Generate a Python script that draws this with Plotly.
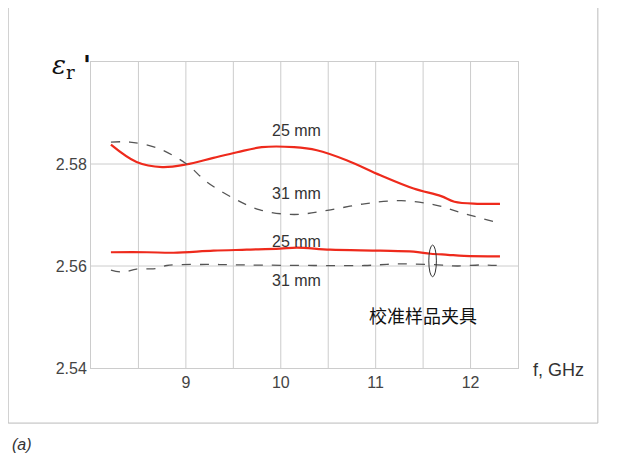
import plotly.graph_objects as go

x_r25 = [8.21, 8.48, 8.75, 9.0, 9.29, 9.54, 9.80, 10.14, 10.38, 10.70, 11.05, 11.40, 11.69, 11.83, 12.07, 12.31]
y_r25 = [2.5838, 2.5804, 2.5794, 2.5799, 2.5812, 2.5823, 2.5833, 2.5833, 2.5827, 2.5807, 2.5778, 2.5752, 2.5737, 2.5726, 2.5722, 2.5722]
x_r31 = [8.21, 8.41, 8.69, 9.0, 9.22, 9.50, 9.78, 10.14, 10.49, 10.88, 11.27, 11.62, 11.93, 12.31]
y_r31 = [2.5843, 2.5843, 2.5832, 2.5801, 2.5765, 2.5733, 2.5710, 2.5701, 2.5709, 2.5722, 2.5728, 2.5720, 2.5703, 2.5684]
x_f25 = [8.21, 8.59, 8.87, 9.29, 9.64, 9.99, 10.17, 10.52, 11.05, 11.40, 11.58, 11.76, 11.93, 12.31]
y_f25 = [2.5627, 2.5627, 2.5626, 2.5630, 2.5632, 2.5634, 2.5636, 2.5632, 2.5630, 2.5628, 2.5624, 2.5622, 2.5620, 2.5619]
x_f31 = [8.21, 8.34, 8.48, 8.69, 8.80, 9.22, 9.64, 10.35, 10.88, 11.23, 11.58, 11.86, 12.11, 12.28]
y_f31 = [2.5592, 2.5588, 2.5594, 2.5595, 2.5601, 2.5603, 2.5602, 2.5601, 2.5601, 2.5604, 2.5603, 2.5600, 2.5602, 2.5601]
x_ticks = [9, 10, 11, 12]
y_ticks = [2.54, 2.56, 2.58]

red = "#ee2a1c"
gray = "#555555"
fig = go.Figure()
for xs, ys, c, d in [(x_r25, y_r25, red, "solid"), (x_r31, y_r31, gray, "dash"),
                     (x_f25, y_f25, red, "solid"), (x_f31, y_f31, gray, "dash")]:
    fig.add_trace(go.Scatter(x=xs, y=ys, mode="lines", line=dict(color=c, dash=d,
                  width=2.2 if c == red else 1.3, shape="spline"), showlegend=False))

tf = dict(family="Liberation Sans", size=16, color="#444")
fig.update_layout(
    width=617, height=467, margin=dict(l=83, r=107, t=54, b=107),
    plot_bgcolor="white", paper_bgcolor="white",
    xaxis=dict(range=[8, 12.5], tickvals=x_ticks, ticks="", showgrid=False,
               showline=True, linecolor="#ccc", mirror=True, tickfont=tf, zeroline=False),
    yaxis=dict(range=[2.54, 2.6], tickvals=y_ticks, ticktext=["2.54", "2.56", "2.58"],
               ticks="", showgrid=False, showline=True, linecolor="#ccc", mirror=True,
               tickfont=tf, zeroline=False),
)
shapes = []
for i in range(1, 9):
    xv = 8 + 0.5 * i
    shapes.append(dict(type="line", xref="x", yref="paper", x0=xv, x1=xv, y0=0, y1=1,
                       line=dict(color="#ccc", width=1), layer="below"))
for yv in [2.56, 2.58]:
    shapes.append(dict(type="line", xref="paper", yref="y", x0=0, x1=1, y0=yv, y1=yv,
                       line=dict(color="#ccc", width=1), layer="below"))
shapes.append(dict(type="circle", xref="x", yref="y", x0=11.56, x1=11.64, y0=2.5579, y1=2.5641,
                   line=dict(color="#333", width=1)))
shapes.append(dict(type="rect", xref="paper", yref="paper", x0=-0.194, x1=1.187, y0=-0.18, y1=1.2,
                   line=dict(color="#bbb", width=1)))
fig.update_layout(shapes=shapes)

lab = dict(family="Liberation Sans", size=16, color="#333")
for t, xv, yv in [("25 mm", 10.17, 2.5866), ("31 mm", 10.17, 2.5743), ("25 mm", 10.17, 2.5648), ("31 mm", 10.17, 2.5571)]:
    fig.add_annotation(x=xv, y=yv, text=t, showarrow=False, font=lab)
fig.add_annotation(x=11.5, y=2.5503, text="校准样品夹具", showarrow=False,
                   font=dict(family="Noto Sans CJK SC", size=18, color="#111"))
fig.add_annotation(xref="paper", yref="paper", x=1.03, y=-0.045, text="f, GHz", showarrow=False,
                   xanchor="left", font=dict(family="Liberation Sans", size=18, color="#333"))
fig.add_annotation(xref="paper", yref="paper", x=-0.045, y=1.045,
                   text="<i>ε</i><sub>r</sub> <b>'</b>", showarrow=False, xanchor="center",
                   font=dict(family="DejaVu Serif", size=26, color="#111"))
fig.add_annotation(xref="paper", yref="paper", x=-0.19, y=-0.285, text="<i>(a)</i>", showarrow=False,
                   xanchor="left", font=dict(family="Liberation Sans", size=16, color="#333"))
fig.write_html("out.html")
